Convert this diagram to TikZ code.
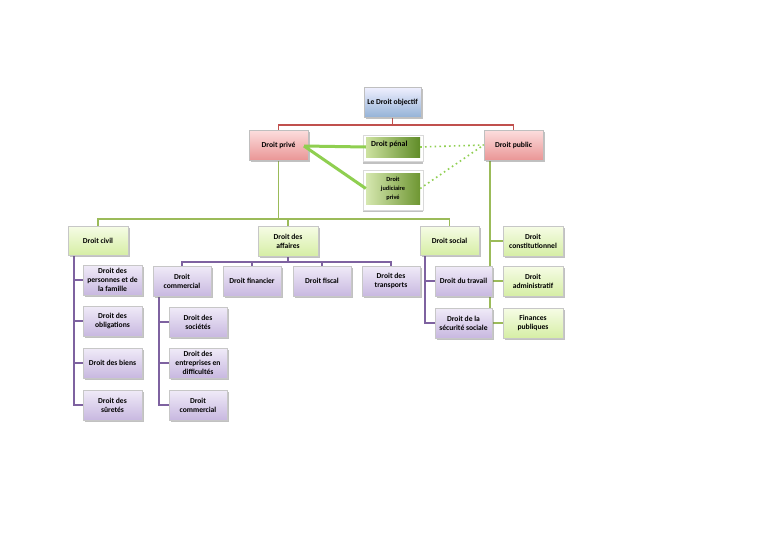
\documentclass[tikz,border=0pt]{standalone}
\usepackage{fontspec}
\setmainfont{Carlito}
\usetikzlibrary{shadows,backgrounds}
\definecolor{redline}{HTML}{C0504D}
\definecolor{grline}{HTML}{9BBB59}
\definecolor{brightgr}{HTML}{8FCF50}
\definecolor{purline}{HTML}{7E62A0}
\tikzset{
  box/.style={draw, line width=0.6pt, align=center, inner sep=0.5pt,
    font=\fontsize{7.6}{9}\selectfont\bfseries,
    drop shadow={shadow xshift=1.5pt, shadow yshift=-1.5pt, opacity=0.4, fill=black!60}},
  bluebox/.style={box, draw=black!25, top color=blue!6!white, bottom color={rgb,255:red,149;green,179;blue,215}},
  redbox/.style={box, draw=black!25, top color={rgb,255:red,252;green,222;blue,222}, bottom color={rgb,255:red,234;green,150;blue,150}},
  grbox/.style={box, draw=black!22, top color={rgb,255:red,246;green,252;blue,230}, bottom color={rgb,255:red,214;green,238;blue,165}},
  purbox/.style={box, draw=black!22, top color={rgb,255:red,240;green,235;blue,248}, bottom color={rgb,255:red,200;green,184;blue,224}},
  darkbox/.style={draw=none, align=center, inner sep=0pt,
    left color={rgb,255:red,205;green,226;blue,160}, right color={rgb,255:red,96;green,140;blue,40}},
  frame/.style={draw=black!15, fill=white, line width=0.5pt,
    drop shadow={shadow xshift=0pt, shadow yshift=-2pt, opacity=0.4, fill=black!60}},
  redc/.style={draw=redline, line width=1.5pt},
  grc/.style={draw=grline, line width=1.5pt},
  purc/.style={draw=purline, line width=1.5pt},
  thickgr/.style={draw=brightgr, line width=3pt},
  dotgr/.style={draw=brightgr, line width=1.6pt, dash pattern=on 1.6pt off 3.2pt},
}
\begin{document}
\begin{tikzpicture}[x=1pt,y=-1pt]
\useasboundingbox (0,0) rectangle (768,543);
% top level
\node[bluebox, minimum width=57pt, minimum height=30pt] (obj) at (392.5,102) {Le Droit objectif};
\node[redbox, minimum width=59pt, minimum height=30pt] (prive) at (278.5,145) {Droit privé};
\node[redbox, minimum width=59pt, minimum height=30pt] (public) at (513.5,145) {Droit public};
% framed dark green boxes
\node[frame, minimum width=60pt, minimum height=26pt] (penalf) at (393,148.5) {};
\node[darkbox, minimum width=54pt, minimum height=20pt] (penal) at (393,147) {};
\node[anchor=west, font=\fontsize{7.8}{9}\selectfont\bfseries, inner sep=0pt] (penalt) at (371,144.5) {Droit pénal};
\node[frame, minimum width=60pt, minimum height=40pt] (judf) at (393,190) {};
\node[darkbox, left color={rgb,255:red,214;green,232;blue,176}, right color={rgb,255:red,110;green,150;blue,50}, minimum width=54pt, minimum height=31pt, font=\fontsize{6.3}{9}\selectfont\bfseries] (jud) at (393,188.5) {Droit\\judiciaire\\privé};
% second level
\node[grbox, minimum width=60pt, minimum height=29pt] (civil) at (98,240.5) {Droit civil};
\node[grbox, minimum width=60pt, minimum height=30pt] (affaires) at (288,241) {Droit des\\affaires};
\node[grbox, minimum width=59pt, minimum height=29pt] (social) at (449.5,240.5) {Droit social};
\node[grbox, minimum width=60pt, minimum height=30pt] (consti) at (533,241) {Droit\\constitutionnel};
\node[grbox, minimum width=60pt, minimum height=30pt] (admin) at (533,281) {Droit\\administratif};
\node[grbox, minimum width=60pt, minimum height=30pt] (fin) at (533,323) {Finances\\publiques};
% purple boxes
\node[purbox, minimum width=57pt, minimum height=30pt] (travail) at (463.5,281) {Droit du travail};
\node[purbox, minimum width=57pt, minimum height=30pt] (secu) at (463.5,323) {Droit de la\\sécurité sociale};
\node[purbox, minimum width=59pt, minimum height=30pt] (pers) at (112.5,280) {Droit des\\personnes et de\\la famille};
\node[purbox, minimum width=59pt, minimum height=30pt] (oblig) at (112.5,321) {Droit des\\obligations};
\node[purbox, minimum width=59pt, minimum height=30pt] (biens) at (112.5,363) {Droit des biens};
\node[purbox, minimum width=59pt, minimum height=30pt] (suretes) at (112.5,405) {Droit des\\sûretés};
\node[purbox, minimum width=58pt, minimum height=30pt] (comm) at (182,281) {Droit\\commercial};
\node[purbox, minimum width=58pt, minimum height=30pt] (financier) at (252,281) {Droit financier};
\node[purbox, minimum width=58pt, minimum height=30pt] (fiscal) at (322,281) {Droit fiscal};
\node[purbox, minimum width=58pt, minimum height=30pt] (transp) at (391,281) {Droit des\\transports};
\node[purbox, minimum width=58pt, minimum height=30pt] (soc) at (198,322) {Droit des\\sociétés};
\node[purbox, minimum width=58pt, minimum height=30pt] (entr) at (198,363) {Droit des\\entreprises en\\difficultés};
\node[purbox, minimum width=58pt, minimum height=30pt] (comm2) at (198,405) {Droit\\commercial};
% coordinates
\coordinate (rj) at (392.5,125);
\coordinate (pj) at (278.5,219);
\coordinate (pe) at (304,146);
\coordinate (aj) at (288,262);
\coordinate (pubtop) at (490,160);
\coordinate (pubbot) at (490,323);
\coordinate (soctop) at (425,255);
\coordinate (socbot) at (425,323);
\coordinate (civtop) at (74,255);
\coordinate (civbot) at (74,405);
\coordinate (comtop) at (159,296);
\coordinate (combot) at (159,405);
\begin{scope}[on background layer]
\fill[white] (0,0) rectangle (768,543);
\path[redc] (obj.south) -- (rj) -| (prive.north);
\path[redc] (rj) -| (public.north);
\path[grc] (prive.south) -- (pj) -| (civil.north);
\path[grc] (pj) -| (social.north);
\path[grc] (pj) -| (affaires.north);
\path[grc] (pubtop) -- (pubbot) -- (fin.west);
\path[grc] (pubtop |- consti.west) -- (consti.west);
\path[grc] (pubtop |- admin.west) -- (admin.west);
\path[purc] (affaires.south) -- (aj) -| (comm.north);
\path[purc] (aj) -| (transp.north);
\path[purc] (aj) -| (financier.north);
\path[purc] (aj) -| (fiscal.north);
\path[purc] (soctop) -- (socbot) -- (secu.west);
\path[purc] (soctop |- travail.west) -- (travail.west);
\path[purc] (civtop) -- (civbot) -- (suretes.west);
\path[purc] (civtop |- pers.west) -- (pers.west);
\path[purc] (civtop |- oblig.west) -- (oblig.west);
\path[purc] (civtop |- biens.west) -- (biens.west);
\path[purc] (comtop) -- (combot) -- (comm2.west);
\path[purc] (comtop |- soc.west) -- (soc.west);
\path[purc] (comtop |- entr.west) -- (entr.west);
\end{scope}
\path[thickgr] (pe) -- (penal.west);
\path[thickgr] (pe) -- (jud.west);
\path[dotgr] (penal.east) -- (public.west);
\path[dotgr] (jud.east) -- (public.west);
\end{tikzpicture}
\end{document}
